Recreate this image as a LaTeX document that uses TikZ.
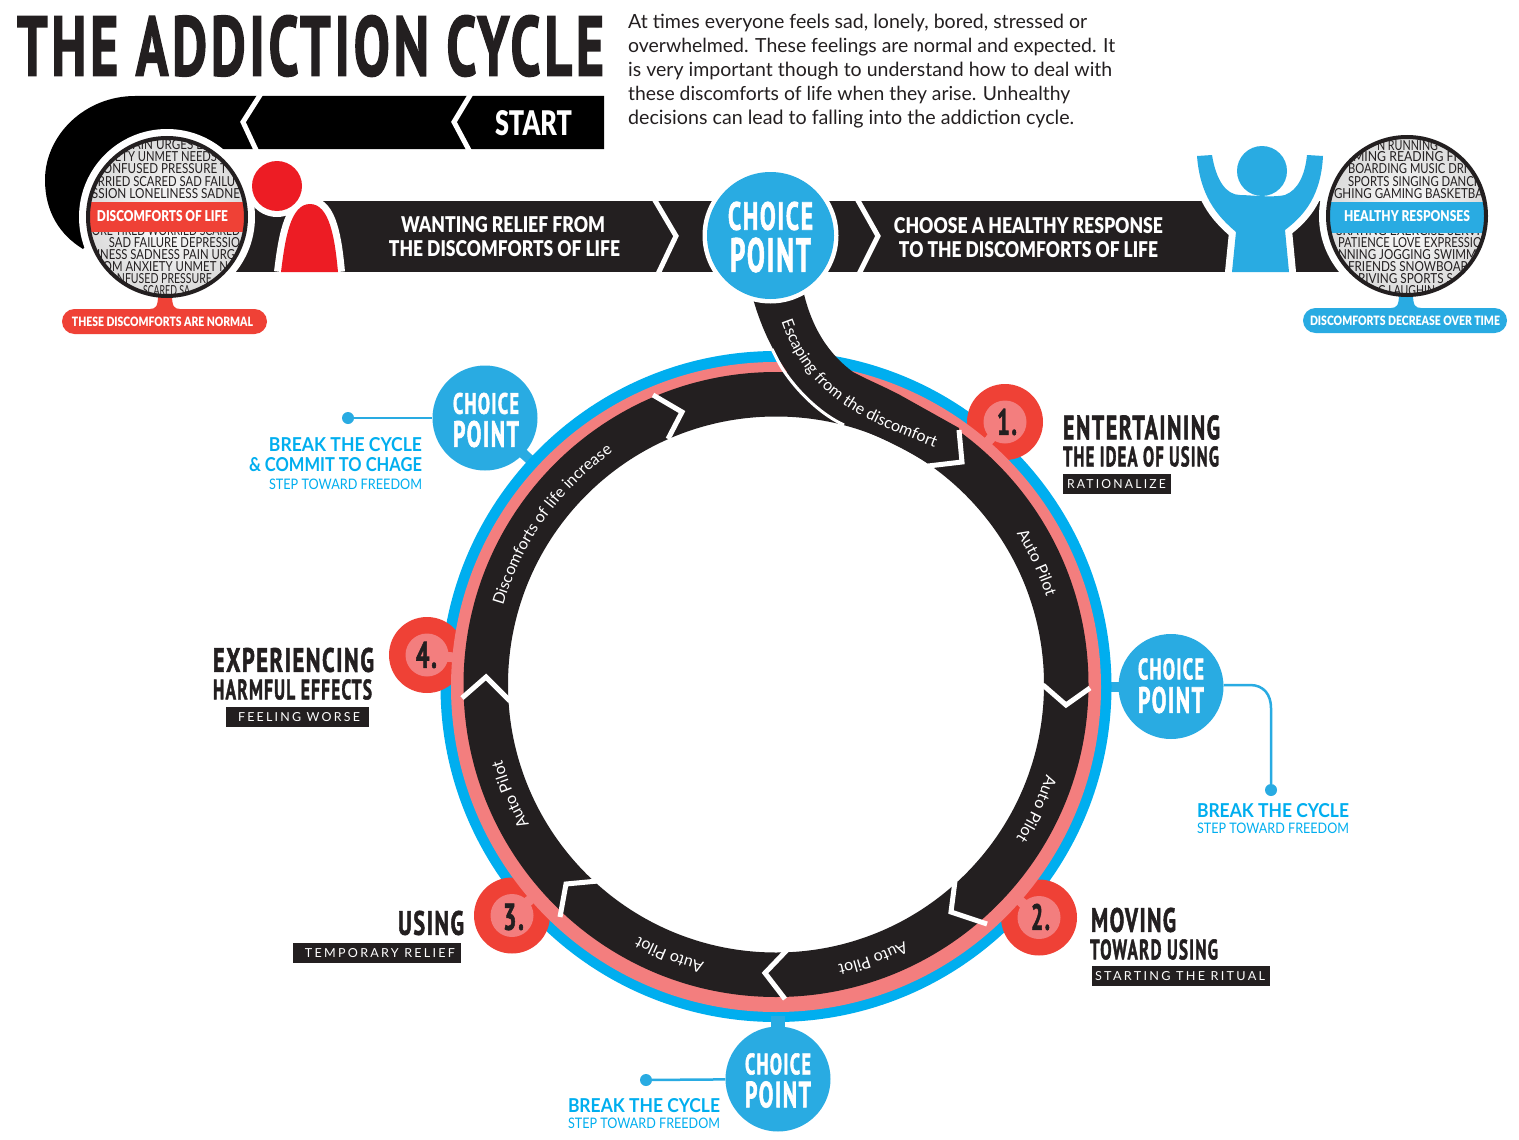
\documentclass[tikz,border=0pt]{standalone}
\usepackage{graphicx}
\usepackage{fontspec}
\usetikzlibrary{calc,decorations.text}
\setmainfont{Lato}
\newfontfamily\cond{PT Sans Bold}[LetterSpace=7,FakeBold=2]
\newfontfamily\lat{Lato}
\newfontfamily\latb{Lato Bold}
\newfontfamily\latk{Lato Black}
\newfontfamily\tagf{Lato}[LetterSpace=18]
\definecolor{dk}{HTML}{231F20}
\definecolor{ringblue}{HTML}{00AEEF}
\definecolor{cpblue}{HTML}{29ABE2}
\definecolor{pinkc}{HTML}{F37E7E}
\definecolor{redc}{HTML}{EF4136}
\definecolor{manred}{HTML}{ED1C24}
\tikzset{
  x=1pt,y=1pt,
  txt/.style={inner sep=0pt,outer sep=0pt,anchor=center},
  cp/.style={circle,fill=cpblue,inner sep=0pt,minimum size=#1},
  reddisc/.style={circle,fill=redc,inner sep=0pt,minimum size=76pt},
  pinkdisc/.style={circle,fill=pinkc,inner sep=0pt,minimum size=43pt},
  dotn/.style={circle,fill=cpblue,inner sep=0pt,minimum size=12pt},
  chev/.style={draw=white,line width=5pt,miter limit=10},
  leader/.style={draw=cpblue,line width=2.5pt},
}
% name, x1, x2, y-centre, height, colour, text
\newcommand\tx[7]{\node[txt,text=#6] (#1) at ({(#2+#3)/2},-#4) {\resizebox{\dimexpr#3pt-#2pt\relax}{#5pt}{#7}};}
\newcommand\bcond[1]{\cond #1}
\newcommand\neckstage[2]{%
  \begin{scope}[shift={(#1)},rotate=#2]
    \fill[pinkc] (15,-5) rectangle (30,5);
    \fill[redc] (24,-8) circle (3) (24,8) circle (3);
  \end{scope}}
\begin{document}
\begin{tikzpicture}
\useasboundingbox (0,0) rectangle (1519,-1140);
\fill[white] (0,0) rectangle (1519,-1140);
%%% title + paragraph
\tx{title}{17}{604}{46}{60}{dk}{\bcond{THE ADDICTION CYCLE}}
\foreach \nm/\yy/\xe/\s in {p1/28.5/1087/{At times everyone feels sad, lonely, bored, stressed or},
  p2/52.5/1115/{overwhelmed. These feelings are normal and expected. It},
  p3/76.5/1112/{is very important though to understand how to deal with},
  p4/100.5/1070/{these discomforts of life when they arise. Unhealthy},
  p5/124.5/1074/{decisions can lead to falling into the addiction cycle.}}{
  \node[inner sep=0pt,anchor=base west,text=dk] (\nm) at (628,-\yy) {\resizebox{\dimexpr\xe pt-628pt\relax}{!}{\lat\s}};
}
%%% START bar
\fill[black] (604,-96) -- (135,-96) .. controls (85,-96) and (45,-135) .. (45,-180)
  .. controls (45,-212) and (60,-235) .. (83,-249) -- (150,-180) -- (190,-149) -- (604,-149) -- cycle;
\draw[chev] (262,-92) -- (243,-122) -- (257,-152);
\draw[chev] (472,-92) -- (454,-122) -- (470,-152);
\tx{start}{495}{572}{123}{25}{white}{\latk START}
%%% main band
\fill[dk] (200,-201) rectangle (1340,-272);
\draw[chev] (653,-197) -- (676,-236) -- (657,-276);
\draw[chev] (856,-197) -- (878,-236) -- (858,-276);
\tx{w1}{401}{605}{225}{16}{white}{\latk WANTING RELIEF FROM}
\tx{w2}{389}{620}{249}{16}{white}{\latk THE DISCOMFORTS OF LIFE}
\tx{h1}{894}{1163}{226}{16}{white}{\latk CHOOSE A HEALTHY RESPONSE}
\tx{h2}{899}{1158}{250}{16}{white}{\latk TO THE DISCOMFORTS OF LIFE}
%%% red person
\fill[white] (277,-186) circle (31);
\draw[white,line width=14pt] (281,-272) .. controls (285,-240) and (290,-204) .. (310,-204) .. controls (330,-204) and (335,-240) .. (338,-272);
\fill[white] (270,-272) rectangle (350,-285);
\fill[manred] (277,-186) circle (25);
\fill[manred] (281,-272) .. controls (285,-240) and (290,-204) .. (310,-204) .. controls (330,-204) and (335,-240) .. (338,-272) -- cycle;
%%% blue person
\def\bodypath{(1197,-156) -- (1212,-155) .. controls (1216,-180) and (1226,-195) .. (1240,-195) .. controls (1250,-195) and (1272,-198) .. (1285,-195) .. controls (1298,-190) and (1305,-175) .. (1307,-155) -- (1323,-156) .. controls (1321,-195) and (1305,-215) .. (1285,-230) -- (1289,-272) -- (1232,-272) -- (1236,-232) .. controls (1216,-215) and (1200,-195) .. (1197,-156) -- cycle}
\draw[white,line width=14pt,line join=round] \bodypath;
\fill[white] (1215,-272) rectangle (1300,-285);
\fill[cpblue] \bodypath;
\fill[cpblue] (1262,-171) circle (25);
%%% left magnifier
\fill[white] (167,-217) circle (88);
\fill[redc] (150,-309) .. controls (156,-309) and (158,-306) .. (158,-295) -- (172,-295) .. controls (172,-306) and (174,-309) .. (180,-309) -- cycle;
\fill[inner color=white,outer color=black!14] (167,-217) circle (79);
\begin{scope}
  \clip (167,-217) circle (78);
  \tx{la}{133}{203}{145}{10}{dk}{\lat AIN URGES E}
  \tx{lb}{115}{217}{157}{10}{dk}{\lat ETY UNMET NEEDS}
  \tx{lc}{103}{227}{169}{10}{dk}{\lat ONFUSED PRESSURE T}
  \tx{ld}{98}{235}{182}{10}{dk}{\lat RRIED SCARED SAD FAILU}
  \tx{le}{92}{240}{194}{10}{dk}{\lat SSION LONELINESS SADNE}
  \tx{lf}{92}{240}{231}{10}{dk}{\lat ORE TIRED WORRIED SCARED}
  \tx{lg}{109}{240}{243}{10}{dk}{\lat SAD FAILURE DEPRESSIO}
  \tx{lh}{97}{235}{255}{10}{dk}{\lat INESS SADNESS PAIN URG}
  \tx{li}{103}{228}{267}{10}{dk}{\lat OM ANXIETY UNMET N}
  \tx{lj}{117}{212}{279}{10}{dk}{\lat NFUSED PRESSURE}
  \tx{lk}{143}{190}{291}{10}{dk}{\lat SCARED SA}
  \fill[redc] (85,-202) rectangle (250,-232);
\end{scope}
\draw[dk,line width=4pt] (167,-217) circle (79);
\tx{dl}{97}{228}{216}{11}{white}{\latk DISCOMFORTS OF LIFE}
\node[txt,fill=redc,rounded corners=12.5pt,minimum width=205pt,minimum height=25pt] (pillL) at (164.5,-321.5) {};
\tx{dlt}{72}{253}{321.5}{9.5}{white}{\latk THESE DISCOMFORTS ARE NORMAL}
%%% right magnifier
\fill[white] (1407,-216) circle (88);
\fill[cpblue] (1391,-308) .. controls (1397,-308) and (1399,-305) .. (1399,-294) -- (1413,-294) .. controls (1413,-305) and (1415,-308) .. (1421,-308) -- cycle;
\fill[inner color=white,outer color=black!14] (1407,-216) circle (79);
\begin{scope}
  \clip (1407,-216) circle (78);
  \tx{ra}{1377}{1438}{146}{10}{dk}{\lat N RUNNING}
  \tx{rb}{1353}{1457}{157}{10}{dk}{\lat MING READING FI}
  \tx{rc}{1348}{1467}{169}{10}{dk}{\lat BOARDING MUSIC DRI}
  \tx{rd}{1348}{1477}{182}{10}{dk}{\lat SPORTS SINGING DANCI}
  \tx{re}{1334}{1483}{194}{10}{dk}{\lat GHING GAMING BASKETBA}
  \tx{rf}{1336}{1480}{231}{10}{dk}{\lat SKATING EXERCISE SERVI}
  \tx{rg}{1338}{1482}{243}{10}{dk}{\lat PATIENCE LOVE EXPRESSIO}
  \tx{rh}{1338}{1480}{255}{10}{dk}{\lat NNING JOGGING SWIMMI}
  \tx{ri}{1348}{1468}{267}{10}{dk}{\lat FRIENDS SNOWBOAR}
  \tx{rj}{1358}{1453}{279}{10}{dk}{\lat RIVING SPORTS S}
  \tx{rk}{1378}{1435}{291}{10}{dk}{\lat G LAUGHIN}
  \fill[cpblue] (1325,-202) rectangle (1490,-233);
\end{scope}
\draw[dk,line width=4pt] (1407,-216) circle (79);
\tx{dr}{1344}{1470}{216}{11}{white}{\latk HEALTHY RESPONSES}
\node[txt,fill=cpblue,rounded corners=12.5pt,minimum width=204pt,minimum height=25pt] (pillR) at (1405,-320.5) {};
\tx{drt}{1310}{1500}{320.5}{9.5}{white}{\latk DISCOMFORTS DECREASE OVER TIME}
%%% necks of choice points, then blue ring, red discs, pink ring
\fill[cpblue] (1106,-681.5) rectangle (1124,-692);
\fill[white] (1114.5,-678) circle (3.5) (1114.5,-695.5) circle (3.5);
\fill[cpblue] (771,-1016) rectangle (785,-1031);
\fill[white] (767,-1024.5) circle (3.5) (789,-1024.5) circle (3.5);
\fill[cpblue,rotate around={-42.4:(527,-457)}] (516,-452) rectangle (538,-462);
\fill[white] (532.9,-450.6) circle (3.5) (521.1,-463.4) circle (3.5);
\fill[ringblue,even odd rule] (776,-686.5) circle (335.5) (776,-686.5) circle (320);
\fill[cpblue] (771,-1016) rectangle (785,-1024);
\node[reddisc] (s1) at (1005,-422) {};
\node[reddisc] (s2) at (1039,-917.5) {};
\node[reddisc] (s3) at (512,-915.5) {};
\node[reddisc] (s4) at (427,-655) {};
\neckstage{1005,-422}{229}
\neckstage{1039,-917.5}{138.8}
\neckstage{512,-915.5}{41}
\neckstage{427,-655}{-5.2}
\fill[pinkc,even odd rule] (776,-687) circle (325) (776,-684.5) circle (300);
\node[pinkdisc] (i1) at (s1) {};
\node[pinkdisc] (i2) at (s2) {};
\node[pinkdisc] (i3) at (s3) {};
\node[pinkdisc] (i4) at (s4) {};
\tx{n1}{997}{1017}{422}{26}{dk}{\bcond{1.}}
\tx{n2}{1031}{1050}{917}{26}{dk}{\bcond{2.}}
\tx{n3}{503}{524}{917}{26}{dk}{\bcond{3.}}
\tx{n4}{416}{437}{655}{26}{dk}{\bcond{4.}}
% dark ring
\fill[dk,even odd rule] (776,-684.5) circle (312.5) (776,-684.5) circle (268);
% ring chevrons
\draw[chev] (653,-395) -- (682,-412) -- (668,-439);
\draw[chev] (462,-698) -- (486,-677) -- (510,-701);
\draw[chev] (598,-881) -- (566,-884) -- (560,-917);
\draw[chev] (787,-950) -- (765,-973) -- (785,-999);
\draw[chev] (955,-881) -- (951,-912) -- (987,-924);
\draw[chev] (1043,-685) -- (1066,-705) -- (1090,-688);
% escaping band
\fill[dk] (752,-295) .. controls (760,-325) and (772,-350) .. (787,-372) .. controls (800,-392) and (822,-413) .. (843,-423)
  .. controls (872,-433) and (902,-447) .. (929,-464) -- (962,-462) -- (959,-428) -- (900,-395)
  .. controls (885,-387) and (868,-380) .. (853,-372) .. controls (830,-355) and (812,-330) .. (803,-290) -- cycle;
\draw[white,line width=3pt] (772,-349) .. controls (775,-355) and (780,-366) .. (786,-374) .. controls (800,-394) and (822,-415) .. (844,-425);
\draw[chev] (959,-430) -- (962,-462) -- (928,-466);
% main choice point
\fill[white] (770.5,-235.5) circle (68);
\node[cp=127pt] (cp0) at (770.5,-235.5) {};
\tx{c0a}{728}{813}{216}{28}{white}{\bcond{CHOICE}}
\tx{c0b}{730}{811}{255}{34}{white}{\bcond{POINT}}
% other choice points
\node[cp=105pt] (cp1) at (485,-418) {};
\tx{c1a}{453}{519}{403.5}{21}{white}{\bcond{CHOICE}}
\tx{c1b}{453}{519}{434}{26}{white}{\bcond{POINT}}
\node[cp=105pt] (cp2) at (1171,-686.5) {};
\tx{c2a}{1138}{1204}{669}{21}{white}{\bcond{CHOICE}}
\tx{c2b}{1138}{1204}{700}{26}{white}{\bcond{POINT}}
\node[cp=105pt] (cp3) at (778,-1079) {};
\tx{c3a}{745}{811}{1064}{21}{white}{\bcond{CHOICE}}
\tx{c3b}{745}{811}{1094.5}{26}{white}{\bcond{POINT}}
% leaders
\node[dotn] (d1) at (348,-418) {};
\node[dotn] (d2) at (1271,-790) {};
\node[dotn] (d3) at (646,-1080) {};
\draw[leader] (d1) -- (cp1);
\draw[leader] (d3) -- (cp3);
\draw[leader] (cp2.east) ++(0,1.5) -- (1250,-685) .. controls (1264,-685) and (1271,-695) .. (1271,-708) -- (d2);
% blue labels
\tx{b1a}{269}{422}{445}{14}{ringblue}{\latb BREAK THE CYCLE}
\tx{b1b}{249}{422}{465}{14}{ringblue}{\latb \& COMMIT TO CHAGE}
\tx{b1c}{269}{422}{484}{10.5}{ringblue}{\lat STEP TOWARD FREEDOM}
\tx{b2a}{1197}{1349}{811}{14}{ringblue}{\latb BREAK THE CYCLE}
\tx{b2c}{1197}{1349}{828}{10.5}{ringblue}{\lat STEP TOWARD FREEDOM}
\tx{b3a}{568}{720}{1106}{14}{ringblue}{\latb BREAK THE CYCLE}
\tx{b3c}{568}{720}{1123}{10.5}{ringblue}{\lat STEP TOWARD FREEDOM}
% stage labels
\tx{l1a}{1063}{1220}{427.5}{24}{dk}{\bcond{ENTERTAINING}}
\tx{l1b}{1063}{1219}{456.5}{20}{dk}{\bcond{THE IDEA OF USING}}
\fill[dk] (1063,-474) rectangle (1171,-494);
\tx{l1c}{1067}{1166}{484.5}{9}{white}{\tagf RATIONALIZE}
\tx{l2a}{1091}{1176}{920}{24}{dk}{\bcond{MOVING}}
\tx{l2b}{1090}{1218}{949.5}{20}{dk}{\bcond{TOWARD USING}}
\fill[dk] (1092,-966) rectangle (1270,-986);
\tx{l2c}{1095}{1265}{976}{9}{white}{\tagf STARTING THE RITUAL}
\tx{l3a}{398}{464}{923}{24}{dk}{\bcond{USING}}
\fill[dk] (293,-943) rectangle (461,-963);
\tx{l3c}{305}{455}{953}{9}{white}{\tagf TEMPORARY RELIEF}
\tx{l4a}{213}{374}{660}{24}{dk}{\bcond{EXPERIENCING}}
\tx{l4b}{213}{372}{689.5}{20}{dk}{\bcond{HARMFUL EFFECTS}}
\fill[dk] (226,-707) rectangle (369,-727);
\tx{l4c}{238}{360}{717}{9}{white}{\tagf FEELING WORSE}
% curved labels
\begin{scope}[shift={(776,-684.5)}]
 \path[decorate,decoration={text along path,text align=center,text={|\lat\fontsize{16}{16}\selectfont\color{white}|Auto Pilot}}] (34:284) arc[start angle=34,end angle=16,radius=284];
 \path[decorate,decoration={text along path,text align=center,text={|\lat\fontsize{16}{16}\selectfont\color{white}|Auto Pilot}}] (-15:285) arc[start angle=-15,end angle=-36,radius=285];
 \path[decorate,decoration={text along path,text align=center,text={|\lat\fontsize{16}{16}\selectfont\color{white}|Auto Pilot}}] (-60:287) arc[start angle=-60,end angle=-81,radius=287];
 \path[decorate,decoration={text along path,text align=center,text={|\lat\fontsize{16}{16}\selectfont\color{white}|Auto Pilot}}] (-101:287) arc[start angle=-101,end angle=-122,radius=287];
 \path[decorate,decoration={text along path,text align=center,text={|\lat\fontsize{16}{16}\selectfont\color{white}|Auto Pilot}}] (-147:284) arc[start angle=-147,end angle=-168,radius=284];
 \path[decorate,decoration={text along path,text align=center,text={|\lat\fontsize{16}{16}\selectfont\color{white}|Discomforts of life increase}}] (167:284) arc[start angle=167,end angle=122,radius=284];
\end{scope}
\path[decorate,decoration={text along path,text align=center,text={|\lat\fontsize{16}{16}\selectfont\color{white}|Escaping from the discomfort}}] (781,-320) .. controls (797,-368) and (825,-395) .. (860,-415) .. controls (885,-428) and (910,-438) .. (936,-448);
\end{tikzpicture}
\end{document}
